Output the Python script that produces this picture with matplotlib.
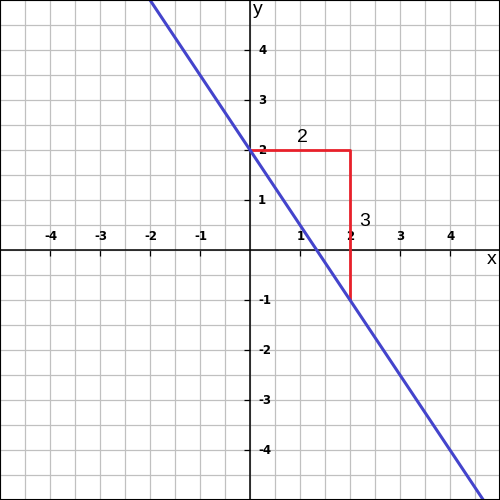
import matplotlib.pyplot as plt
import numpy as np
from matplotlib.patches import Rectangle
from matplotlib.transforms import offset_copy

# axis range and ticks
x_range = [-5, 5]
y_range = [-5, 5]
tick_values = [-4, -3, -2, -1, 1, 2, 3, 4]
grid_step = 0.5

# the line passes through these two points
line_p1 = (0, 2)
line_p2 = (2, -1)

# rise/run triangle
tri_x = [0, 2, 2]
tri_y = [2, 2, -1]
run_label = ("2", 1.04, 2.24)
rise_label = ("3", 2.3, 0.58)

blue = "#4444cc"
red = "#e8202a"
grid_col = "#c0c0c0"

fig = plt.figure(figsize=(5, 5), dpi=100)
ax = fig.add_axes([0, 0, 1, 1])
ax.set_xlim(x_range)
ax.set_ylim(y_range)

# grid every half unit
grid_vals = np.arange(x_range[0], x_range[1] + 0.01, grid_step)
ax.set_xticks(grid_vals, minor=True)
ax.set_yticks(grid_vals, minor=True)
ax.set_xticks(tick_values)
ax.set_yticks(tick_values)
ax.grid(which="both", color=grid_col, linewidth=0.9, zorder=0)
ax.set_axisbelow(True)

# axes through the origin
for side in ["top", "right"]:
    ax.spines[side].set_visible(False)
ax.spines["left"].set_position("zero")
ax.spines["bottom"].set_position("zero")
ax.spines["left"].set_linewidth(1.1)
ax.spines["bottom"].set_linewidth(1.1)
ax.tick_params(which="major", direction="out", length=4.5, width=0.9,
               labelbottom=False, labelleft=False)
ax.tick_params(which="minor", length=0)

# tick labels: above x axis, right of y axis
xlab_tr = offset_copy(ax.transData, fig=fig, x=0.5, y=13, units="dots")
ylab_tr = offset_copy(ax.transData, fig=fig, x=8, y=0, units="dots")
for v in tick_values:
    ax.text(v, 0, str(v), transform=xlab_tr, ha="center", va="center",
            fontsize=8.5, fontweight="bold", family="DejaVu Sans")
    ax.text(0, v, str(v), transform=ylab_tr, ha="left", va="center",
            fontsize=8.5, fontweight="bold", family="DejaVu Sans")

# axis names
ax.text(0.984, 0.48, "x", transform=ax.transAxes, ha="center", va="center",
        fontsize=14, family="Liberation Sans")
ax.text(0.516, 0.98, "y", transform=ax.transAxes, ha="center", va="center",
        fontsize=14, family="Liberation Sans")

# triangle and line
ax.plot(tri_x, tri_y, color=red, linewidth=2.0, solid_capstyle="butt", zorder=3)
ax.axline(line_p1, line_p2, color=blue, linewidth=2.2, zorder=4)

for txt, tx, ty in [run_label, rise_label]:
    ax.text(tx, ty, txt, ha="center", va="center", fontsize=14,
            family="Liberation Sans", zorder=5)

# frame round the picture
fig.patches.append(Rectangle((0, 0), 1, 1, transform=fig.transFigure,
                             fill=False, edgecolor="black", linewidth=1.5))

fig.savefig("out.png", dpi=100)
